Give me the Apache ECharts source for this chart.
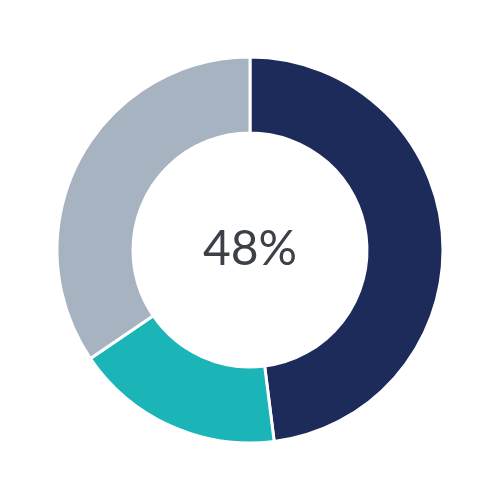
<!DOCTYPE html>
<html>
<head>
<meta charset="utf-8">
<script src="https://cdn.jsdelivr.net/npm/echarts@6/dist/echarts.min.js"></script>
<style>
  html, body { margin: 0; padding: 0; background: #fff; }
  #box { width: 500px; height: 500px; }
</style>
</head>
<body>
<div id="box"></div>
<script>
var names = ['A', 'B', 'C'];
var values = [48, 17.5, 34.5];
var colors = ['#1c2b5a', '#1bb4b7', '#a8b3c2'];
var centerLabel = '48%';

var data = [];
for (var i = 0; i < names.length; i++) {
  data.push({ name: names[i], value: values[i], itemStyle: { color: colors[i] } });
}

var myChart = echarts.init(document.getElementById('box'));
var option = {
  animation: false,
  title: {
    text: centerLabel,
    left: 'center',
    top: 'middle',
    textStyle: {
      fontFamily: 'Lato',
      fontSize: 48,
      fontWeight: 'normal',
      color: '#3b4049'
    }
  },
  series: [{
    type: 'pie',
    center: [250, 250],
    radius: [117, 193],
    startAngle: 90,
    clockwise: true,
    label: { show: false },
    labelLine: { show: false },
    itemStyle: { borderColor: '#fff', borderWidth: 3 },
    data: data
  }]
};
myChart.setOption(option);
</script>
</body>
</html>
